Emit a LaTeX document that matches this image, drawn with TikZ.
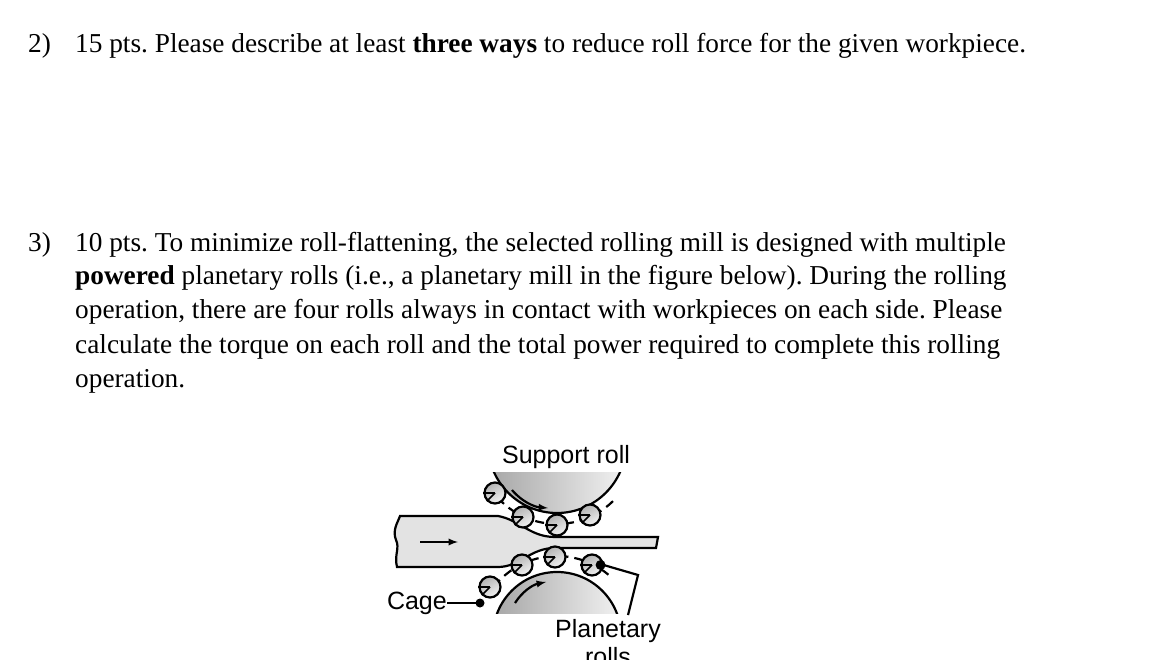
\documentclass[tikz,border=0pt]{standalone}
\usepackage{fontspec}
\setmainfont{Liberation Serif}
\newfontfamily\arialf{Liberation Sans}
\begin{document}
\frenchspacing
\begin{tikzpicture}[x=1pt,y=-1pt,
  body/.style={anchor=base west,inner sep=0pt,font=\fontsize{27.3}{27}\selectfont},
  lab/.style={inner sep=0pt,font=\arialf\fontsize{25}{25}\selectfont},
  small/.style={draw,line width=2.2pt,shading=axis,left color=gray!60,right color=gray!10,shading angle=30},
  cage/.style={line width=2.2pt,dash pattern=on 9pt off 6pt}]
\useasboundingbox (0,0) rectangle (1151,660);
\node[body] (n2) at (28,53) {2)};
\node[body] (t2) at (75,53) {15 pts. Please describe at least \textbf{three ways} to reduce roll force for the given workpiece.};
\node[body] (n3) at (28,252) {3)};
\node[body] (l1) at (75,252) {10 pts. To minimize roll-flattening, the selected rolling mill is designed with multiple};
\node[body] (l2) at (75,285) {\textbf{powered} planetary rolls (i.e., a planetary mill in the figure below). During the rolling};
\node[body] (l3) at (75,319) {operation, there are four rolls always in contact with workpieces on each side. Please};
\node[body] (l4) at (75,353) {calculate the torque on each roll and the total power required to complete this rolling};
\node[body] (l5) at (75,387) {operation.};
% workpiece
\draw[line width=2.2pt,fill=gray!22] (400,516) -- (498,516) .. controls (520,520) and (530,537) .. (555,537) -- (658,537) -- (656,548) -- (555,548) .. controls (530,548) and (520,567) .. (498,567) -- (397,567) .. controls (394,555) and (400,548) .. (396,540) .. controls (392,530) and (398,522) .. (400,516) -- cycle;
\draw[line width=2.2pt,-latex] (420,542) -- (458,542);
% support rolls
\begin{scope}
\clip (480,472) rectangle (640,600);
\fill[left color=gray!70,right color=gray!10] (557,444) circle (69);
\draw[line width=2.2pt] (557,444) circle (69);
\end{scope}
\begin{scope}
\clip (480,500) rectangle (640,613);
\fill[left color=gray!70,right color=gray!10] (557,636) circle (64);
\draw[line width=2.2pt] (557,636) circle (64);
\end{scope}
\draw[line width=2.2pt,-latex] (512,490) .. controls (522,502) and (535,507) .. (548,508);
\draw[line width=2.2pt,-latex] (515,603) .. controls (522,592) and (532,585) .. (546,582);
% cages
\draw[cage] (557,444) ++(138:80) arc[start angle=138,end angle=45,radius=80];
\draw[cage] (557,636) ++(218:80) arc[start angle=218,end angle=310,radius=80];
% planetary rolls
\foreach \p/\n in {{(495,493)}/u1,{(523,517)}/u2,{(557,525)}/u3,{(590,515)}/u4,{(490,587)}/d1,{(522,565)}/d2,{(555,557)}/d3,{(592,565)}/d4}{
  \node[small,circle,minimum size=21pt,inner sep=0pt] (\n) at \p {};
  \draw[line width=1.6pt] (\n.center) -- (\n.south west);
  \draw[line width=1.6pt] (\n.west) -- (\n.center);
}
\fill (d4.east) ++(-3,0) circle (5);
% labels
\node[lab] (sr) at (566,457) {Support roll};
\node[lab,anchor=east] (cg) at (447,603) {Cage};
\coordinate (cd) at (480,603);
\draw[line width=2.2pt] (cg.east) -- (cd);
\fill (cd) circle (4.5);
\node[lab,anchor=base] (pl) at (608,637) {Planetary};
\node[lab,anchor=base] (rl) at (608,665) {rolls};
\coordinate (k1) at (638,575);
\coordinate (k2) at (628,615);
\draw[line width=2.2pt] (d4.east) -- (k1) -- (k2);
\end{tikzpicture}
\end{document}
